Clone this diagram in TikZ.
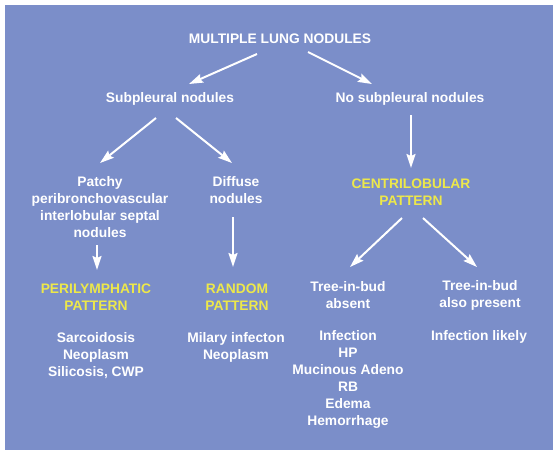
\documentclass[tikz,border=0pt]{standalone}
\usepackage{fontspec}
\setmainfont{Liberation Sans}
\usetikzlibrary{arrows.meta}
\definecolor{bgblue}{HTML}{7B8EC9}
\definecolor{ylw}{HTML}{EDE84A}
\begin{document}
\begin{tikzpicture}[x=1pt,y=-1pt,
  lbl/.style={text=white,font=\fontsize{13.8}{17}\selectfont\bfseries,align=center,inner sep=0pt},
  pat/.style={lbl,text=ylw},
  arr/.style={draw=white,line width=2pt,-{Stealth[length=14pt,width=9pt,inset=2pt]}}]
\useasboundingbox (0,0) rectangle (560,456);
\fill[white] (0,0) rectangle (560,456);
\fill[bgblue] (5,5) rectangle (553,450);
\node[lbl] (top) at (280,39) {MULTIPLE LUNG NODULES};
\node[lbl] (sub) at (170,99) {Subpleural nodules};
\node[lbl] (nosub) at (410,99) {No subpleural nodules};
\node[pat] (centri) at (411,192) {CENTRILOBULAR\\PATTERN};
\node[lbl] (patchy) at (100,207) {Patchy\\peribronchovascular\\interlobular septal\\nodules};
\node[lbl] (diffuse) at (236,190) {Diffuse\\nodules};
\node[pat] (peri) at (96,297) {PERILYMPHATIC\\PATTERN};
\node[pat] (random) at (237,297) {RANDOM\\PATTERN};
\node[lbl] (sarc) at (96,356) {Sarcoidosis\\Neoplasm\\Silicosis, CWP};
\node[lbl] (milary) at (236,347) {Milary infecton\\Neoplasm};
\node[lbl] (tibabs) at (348,295) {Tree-in-bud\\absent};
\node[lbl] (tibpres) at (480,295) {Tree-in-bud\\also present};
\node[lbl] (infl) at (348,379) {Infection\\HP\\Mucinous Adeno\\RB\\Edema\\Hemorrhage};
\node[lbl] (likely) at (479,337) {Infection likely};
\draw[arr] ([shift={(-23,15)}]top.center) -- ([shift={(19,-15)}]sub.center);
\draw[arr] ([shift={(28,13)}]top.center) -- ([shift={(-38,-15)}]nosub.center);
\draw[arr] ([shift={(1,16)}]nosub.center) -- ([shift={(0,-24)}]centri.center);
\draw[arr] ([shift={(-14,19)}]sub.center) -- ([shift={(0,-44)}]patchy.center);
\draw[arr] ([shift={(6,19)}]sub.center) -- ([shift={(-4,-27)}]diffuse.center);
\draw[arr] ([shift={(-3,27)}]diffuse.center) -- ([shift={(-4,-30)}]random.center);
\draw[arr] ([shift={(-3,38)}]patchy.center) -- ([shift={(1,-27)}]peri.center);
\draw[arr] ([shift={(-9,26)}]centri.center) -- ([shift={(2,-28)}]tibabs.center);
\draw[arr] ([shift={(12,26)}]centri.center) -- ([shift={(-3,-28)}]tibpres.center);
\end{tikzpicture}
\end{document}
